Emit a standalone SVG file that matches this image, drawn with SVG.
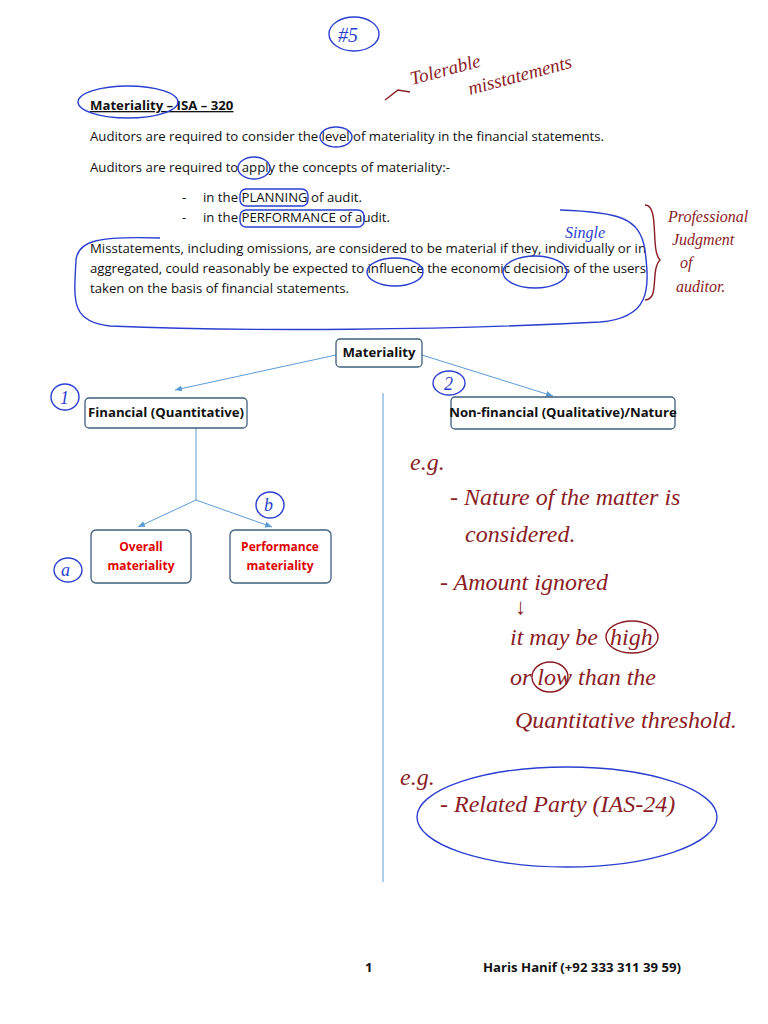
<svg xmlns="http://www.w3.org/2000/svg" width="768" height="1024" viewBox="0 0 768 1024">
<style>
.t{font-family:"Open Sans","Liberation Sans",sans-serif;font-size:13.2px;fill:#111}
.b{font-weight:bold}
.box{fill:#fff;stroke:#3f5f7f;stroke-width:1.3}
.red{fill:#e00000;font-weight:bold;font-family:"Open Sans","Liberation Sans",sans-serif;font-size:12px}
.hw{font-family:"Liberation Serif",serif;font-style:italic;fill:#8b1c24}
.hb{font-family:"Liberation Serif",serif;font-style:italic;fill:#2a3fd0}
.bl{fill:none;stroke:#2a3fd0;stroke-width:1.4}
.rl{fill:none;stroke:#8b1c24;stroke-width:1.4}
.c{stroke:#5b9bd5;stroke-width:1;fill:none}
</style>
<defs><marker id="a" markerWidth="8" markerHeight="8" refX="7" refY="4" orient="auto"><path d="M0,1 L7,4 L0,7 z" fill="#5b9bd5"/></marker></defs>
<rect width="768" height="1024" fill="#fff"/>
<text class="t b" x="90" y="110" font-size="15" text-decoration="underline">Materiality – ISA – 320</text>
<text class="t" x="90" y="141">Auditors are required to consider the level of materiality in the financial statements.</text>
<text class="t" x="90" y="172">Auditors are required to apply the concepts of materiality:-</text>
<text class="t" x="182" y="202">-</text><text class="t" x="203" y="202">in the PLANNING of audit.</text>
<text class="t" x="182" y="222">-</text><text class="t" x="203" y="222">in the PERFORMANCE of audit.</text>
<text class="t" x="90" y="253" textLength="556">Misstatements, including omissions, are considered to be material if they, individually or in</text>
<text class="t" x="90" y="273" textLength="556">aggregated, could reasonably be expected to influence the economic decisions of the users</text>
<text class="t" x="90" y="293">taken on the basis of financial statements.</text>
<g id="conn">
<line class="c" x1="336" y1="355" x2="175" y2="390" marker-end="url(#a)"/>
<line class="c" x1="422" y1="355" x2="553" y2="396" marker-end="url(#a)"/>
<polyline class="c" points="196,428 196,500"/>
<line class="c" x1="196" y1="500" x2="138" y2="527" marker-end="url(#a)"/>
<line class="c" x1="196" y1="500" x2="272" y2="527" marker-end="url(#a)"/>
<line class="c" x1="383" y1="393" x2="383" y2="882"/>
</g>
<g id="materiality"><rect class="box" x="336" y="339" width="86" height="28" rx="4"/><text class="t b" x="379" y="357" text-anchor="middle" font-size="12">Materiality</text></g>
<g id="financial"><rect class="box" x="85" y="398" width="162" height="30" rx="4"/><text class="t b" x="166" y="417" text-anchor="middle" font-size="12">Financial (Quantitative)</text></g>
<g id="nonfinancial"><rect class="box" x="451" y="397" width="224" height="32" rx="4"/><text class="t b" x="563" y="417" text-anchor="middle" font-size="12">Non-financial (Qualitative)/Nature</text></g>
<g id="overall"><rect class="box" x="91" y="530" width="100" height="53" rx="5"/><text class="red" x="141" y="551" text-anchor="middle">Overall</text><text class="red" x="141" y="570" text-anchor="middle">materiality</text></g>
<g id="performance"><rect class="box" x="230" y="530" width="101" height="53" rx="5"/><text class="red" x="280" y="551" text-anchor="middle">Performance</text><text class="red" x="280" y="570" text-anchor="middle">materiality</text></g>
<text class="t b" x="365" y="972" font-size="12">1</text>
<text class="t b" x="483" y="972" font-size="12">Haris Hanif (+92 333 311 39 59)</text>
<!-- blue annotations -->
<ellipse class="bl" cx="354" cy="34" rx="25" ry="17"/><text class="hb" x="338" y="42" font-size="20">#5</text>
<ellipse class="bl" cx="128" cy="102" rx="50" ry="16"/>
<ellipse class="bl" cx="336" cy="137" rx="16" ry="10"/>
<ellipse class="bl" cx="254" cy="168" rx="16" ry="11"/>
<rect class="bl" x="240" y="189" width="68" height="17" rx="6"/>
<rect class="bl" x="240" y="210" width="124" height="17" rx="6"/>
<path class="bl" d="M160,238 C100,236 78,240 76,260 C74,300 70,322 110,326 C250,332 450,330 600,322 C650,318 650,290 645,250 C640,218 620,212 560,210"/>
<ellipse class="bl" cx="395" cy="272" rx="28" ry="14"/>
<ellipse class="bl" cx="535" cy="272" rx="32" ry="16"/>
<text class="hb" x="565" y="238" font-size="16">Single</text>
<ellipse class="bl" cx="65" cy="397" rx="14" ry="13"/><text class="hb" x="60" y="404" font-size="18">1</text>
<ellipse class="bl" cx="449" cy="383" rx="16" ry="12"/><text class="hb" x="444" y="390" font-size="18">2</text>
<ellipse class="bl" cx="68" cy="570" rx="14" ry="12"/><text class="hb" x="61" y="576" font-size="18">a</text>
<ellipse class="bl" cx="270" cy="505" rx="14" ry="13"/><text class="hb" x="264" y="511" font-size="18">b</text>
<ellipse class="bl" cx="567" cy="817" rx="150" ry="50"/>
<!-- red annotations -->
<path class="rl" d="M385,100 L398,90 L410,92"/>
<text class="hw" x="412" y="85" font-size="19" transform="rotate(-15 412 85)">Tolerable</text>
<text class="hw" x="470" y="95" font-size="19" transform="rotate(-15 470 95)">misstatements</text>
<path class="rl" d="M645,205 C660,205 650,250 660,260 C650,270 660,300 645,300"/>
<text class="hw" x="668" y="222" font-size="16">Professional</text>
<text class="hw" x="672" y="245" font-size="16">Judgment</text>
<text class="hw" x="680" y="268" font-size="16">of</text>
<text class="hw" x="676" y="292" font-size="16">auditor.</text>
<text class="hw" x="410" y="470" font-size="24">e.g.</text>
<text class="hw" x="450" y="505" font-size="24">- Nature of the matter is</text>
<text class="hw" x="465" y="542" font-size="24">considered.</text>
<text class="hw" x="440" y="590" font-size="24">- Amount ignored</text>
<text class="hw" x="515" y="614" font-size="22">↓</text>
<text class="hw" x="510" y="645" font-size="24">it may be <tspan dx="6">high</tspan></text>
<ellipse class="rl" cx="632" cy="637" rx="26" ry="16"/>
<text class="hw" x="510" y="685" font-size="24">or low  than the</text>
<ellipse class="rl" cx="550" cy="677" rx="18" ry="15"/>
<text class="hw" x="515" y="728" font-size="24">Quantitative threshold.</text>
<text class="hw" x="400" y="785" font-size="24">e.g.</text>
<text class="hw" x="440" y="812" font-size="24">- Related Party (IAS-24)</text>
</svg>
